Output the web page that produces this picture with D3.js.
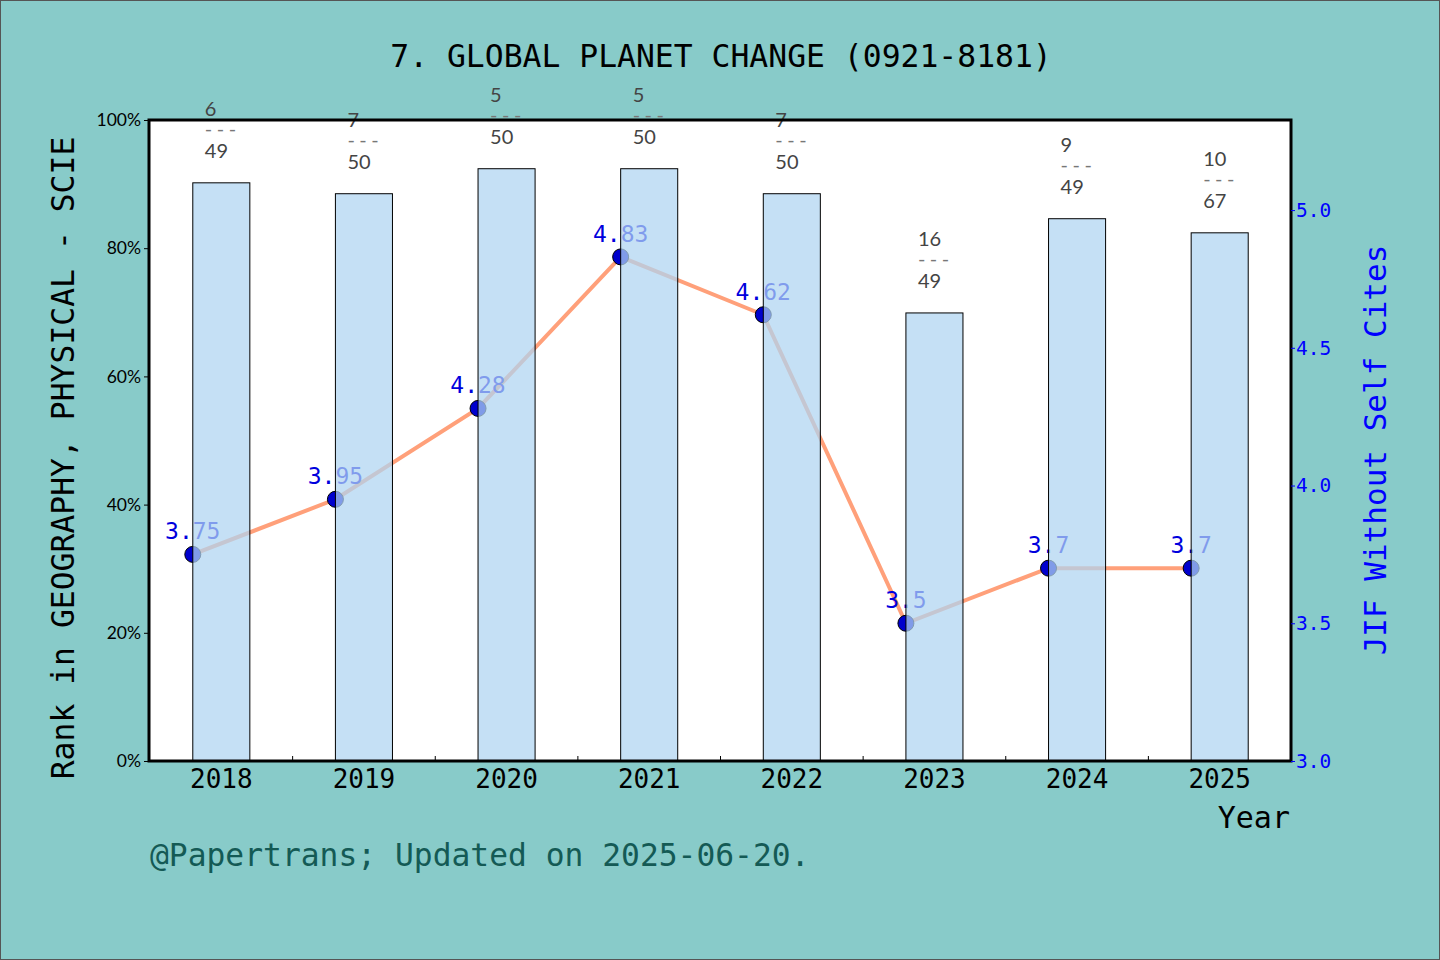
<!DOCTYPE html>
<html>
<head>
<meta charset="utf-8">
<script src="https://cdn.jsdelivr.net/npm/d3@7"></script>
<style>
  body { margin: 0; background: #88cbc9; }
  svg { display: block; }
</style>
</head>
<body>
<svg id="chart"></svg>
<script>
var width = 1440,
    height = 960;

// data
var years = ["2018", "2019", "2020", "2021", "2022", "2023", "2024", "2025"];
var rankPct = [90.2, 88.5, 92.4, 92.4, 88.5, 69.9, 84.6, 82.4];
var ranks = [6, 7, 5, 5, 7, 16, 9, 10];
var totals = [49, 50, 50, 50, 50, 49, 49, 67];
var jif = [3.75, 3.95, 4.28, 4.83, 4.62, 3.5, 3.7, 3.7];
var pctTicks = [0, 20, 40, 60, 80, 100];
var jifTicks = [3.0, 3.5, 4.0, 4.5, 5.0];

var mono = "'DejaVu Sans Mono', monospace";
var sans = "Lato, 'DejaVu Sans', sans-serif";

// plot box (window.top is read-only, so other names)
var pLeft = 149, pRight = 1291, pTop = 120, pBottom = 761;

var svg = d3.select("#chart")
    .attr("width", width)
    .attr("height", height);

svg.append("rect")
    .attr("x", 0.5).attr("y", 0.5)
    .attr("width", width - 1).attr("height", height - 1)
    .attr("fill", "#88cbc9")
    .attr("stroke", "#555");

svg.append("rect")
    .attr("x", pLeft).attr("y", pTop)
    .attr("width", pRight - pLeft).attr("height", pBottom - pTop)
    .attr("fill", "#fff");

var x = d3.scaleBand()
    .domain(years)
    .range([pLeft + 1, pRight]);

var y = d3.scaleLinear()
    .domain([0, 100])
    .range([pBottom, pTop]);

var y2 = d3.scaleLinear()
    .domain([3, 5.327])
    .range([pBottom, pTop]);

// line points sit at the left edge of each bar
function px(d) { return x(d) + x.bandwidth() * 0.3; }

var pts = years.map(function(d, i) { return [px(d), y2(jif[i])]; });

svg.append("path")
    .attr("d", d3.line()(pts))
    .attr("fill", "none")
    .attr("stroke", "#ffa07a")
    .attr("stroke-width", 4);

svg.append("g")
    .selectAll("circle")
    .data(years)
    .enter().append("circle")
        .attr("cx", function(d) { return px(d); })
        .attr("cy", function(d, i) { return y2(jif[i]); })
        .attr("r", 8)
        .attr("fill", "#0000cd")
        .attr("stroke", "#000")
        .attr("stroke-width", 1);

svg.append("g")
    .selectAll("text")
    .data(years)
    .enter().append("text")
        .attr("x", function(d) { return px(d); })
        .attr("y", function(d, i) { return y2(jif[i]) - 15; })
        .attr("text-anchor", "middle")
        .style("font-family", mono)
        .style("font-size", "23px")
        .attr("fill", "#0000dd")
        .text(function(d, i) { return String(jif[i]); });

// bars on top, partly transparent
svg.append("g")
    .selectAll("rect")
    .data(years)
    .enter().append("rect")
        .attr("x", function(d) { return px(d); })
        .attr("y", function(d, i) { return y(rankPct[i]); })
        .attr("width", x.bandwidth() * 0.4)
        .attr("height", function(d, i) { return pBottom - y(rankPct[i]); })
        .attr("fill", "rgb(175,212,241)")
        .attr("fill-opacity", 0.73)
        .attr("stroke", "#000")
        .attr("stroke-width", 1);

// rank labels above bars
var lbl = svg.append("g")
    .selectAll("g")
    .data(years)
    .enter().append("g")
        .attr("transform", function(d, i) {
            return "translate(" + (px(d) + 12) + "," + y(rankPct[i]) + ")";
        })
        .style("font-family", sans)
        .style("font-size", "20px");
lbl.append("text").attr("y", -67).attr("fill", "#444")
    .text(function(d, i) { return ranks[i]; });
lbl.append("text").attr("y", -47).attr("fill", "#777")
    .style("letter-spacing", "4.5px")
    .text("---");
lbl.append("text").attr("y", -25).attr("fill", "#444")
    .text(function(d, i) { return totals[i]; });

// minor ticks at band edges
svg.append("g")
    .selectAll("line")
    .data(years.slice(1))
    .enter().append("line")
        .attr("x1", function(d) { return x(d); })
        .attr("x2", function(d) { return x(d); })
        .attr("y1", pBottom).attr("y2", pBottom - 5)
        .attr("stroke", "#000");

// frame
svg.append("rect")
    .attr("x", pLeft).attr("y", pTop)
    .attr("width", pRight - pLeft).attr("height", pBottom - pTop)
    .attr("fill", "none")
    .attr("stroke", "#000")
    .attr("stroke-width", 3);

var ax = svg.append("g")
    .attr("transform", "translate(" + pLeft + ",0)")
    .call(d3.axisLeft(y).tickValues(pctTicks).tickFormat(function(d) { return d + "%"; }).tickSize(5).tickPadding(3));
ax.select(".domain").remove();
ax.selectAll("text").style("font-family", sans).style("font-size", "17.5px").attr("fill", "#000");

var ax2 = svg.append("g")
    .attr("transform", "translate(" + pRight + ",0)")
    .call(d3.axisRight(y2).tickValues(jifTicks).tickFormat(d3.format(".1f")).tickSize(4).tickPadding(1));
ax2.select(".domain").remove();
ax2.selectAll("line").attr("stroke", "#0000ff");
ax2.selectAll("text").style("font-family", mono).style("font-size", "19.5px").attr("fill", "#0000ff");

svg.append("g")
    .selectAll("text")
    .data(years)
    .enter().append("text")
        .attr("x", function(d) { return x(d) + x.bandwidth() / 2; })
        .attr("y", 788)
        .attr("text-anchor", "middle")
        .style("font-family", mono)
        .style("font-size", "26px")
        .attr("fill", "#000")
        .text(function(d) { return d; });

svg.append("text")
    .attr("x", 721).attr("y", 67)
    .attr("text-anchor", "middle")
    .style("font-family", mono)
    .style("font-size", "31.4px")
    .attr("fill", "#000")
    .text("7. GLOBAL PLANET CHANGE (0921-8181)");

svg.append("text")
    .attr("transform", "translate(74,458) rotate(-90)")
    .attr("text-anchor", "middle")
    .style("font-family", mono)
    .style("font-size", "31.4px")
    .attr("fill", "#000")
    .text("Rank in GEOGRAPHY, PHYSICAL - SCIE");

svg.append("text")
    .attr("transform", "translate(1386,450) rotate(-90)")
    .attr("text-anchor", "middle")
    .style("font-family", mono)
    .style("font-size", "31px")
    .attr("fill", "#0000ff")
    .text("JIF Without Self Cites");

svg.append("text")
    .attr("x", 1290).attr("y", 828)
    .attr("text-anchor", "end")
    .style("font-family", mono)
    .style("font-size", "30px")
    .attr("fill", "#000")
    .text("Year");

svg.append("text")
    .attr("x", 150).attr("y", 866)
    .style("font-family", mono)
    .style("font-size", "31.3px")
    .attr("fill", "#145a55")
    .text("@Papertrans; Updated on 2025-06-20.");
</script>
</body>
</html>
